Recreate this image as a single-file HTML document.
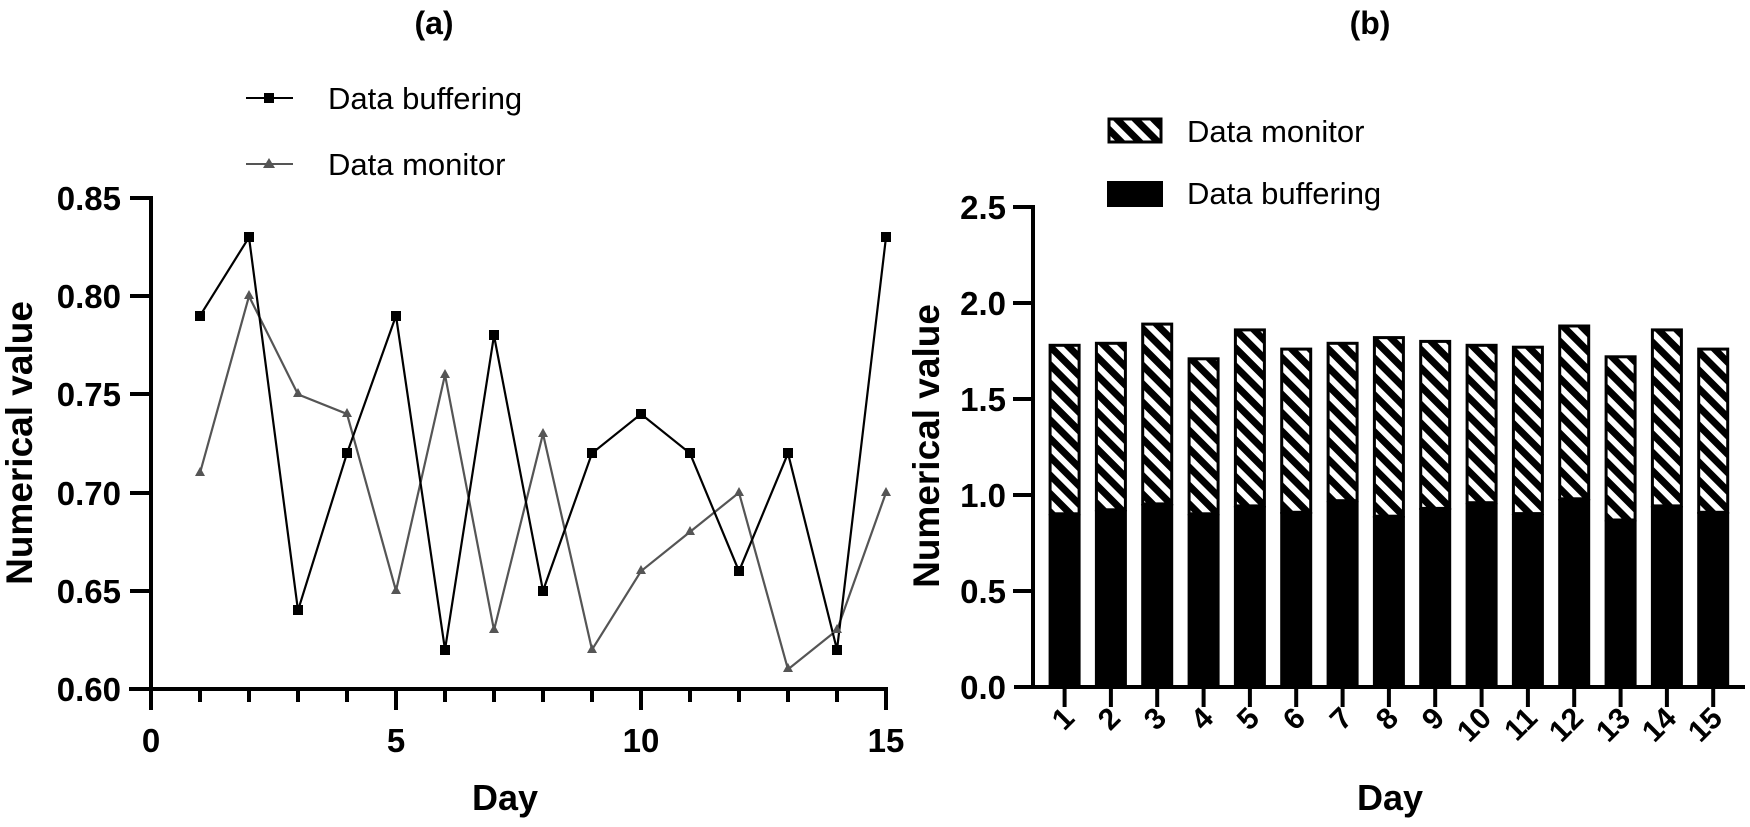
<!DOCTYPE html>
<html><head><meta charset="utf-8"><style>html,body{margin:0;padding:0;background:#fff}svg{display:block}text{font-family:"Liberation Sans",Arial,sans-serif;font-weight:bold}</style></head>
<body>
<svg width="1750" height="827" viewBox="0 0 1750 827" xmlns="http://www.w3.org/2000/svg">
<defs>
<pattern id="h" patternUnits="userSpaceOnUse" width="13" height="13" patternTransform="rotate(-45)">
<rect width="13" height="13" fill="#fff"/><rect width="7" height="13" fill="#000"/>
</pattern>
</defs>
<text x="434" y="34" font-size="32" text-anchor="middle">(a)</text>
<text x="1370" y="34" font-size="32" text-anchor="middle">(b)</text>

<line x1="246" y1="98" x2="293" y2="98" stroke="#000" stroke-width="2"/>
<rect x="264" y="93" width="10" height="10" fill="#000"/>
<text x="328" y="109" font-size="31" style="font-weight:normal">Data buffering</text>
<line x1="246" y1="164" x2="293" y2="164" stroke="#555" stroke-width="2"/>
<polygon points="269,158 275,168 263,168" fill="#555"/>
<text x="328" y="175" font-size="31" style="font-weight:normal">Data monitor</text>

<g stroke="#000" stroke-width="4" fill="none">
<line x1="151" y1="196" x2="151" y2="691"/>
<line x1="129" y1="689" x2="888" y2="689"/>
<line x1="130" y1="198" x2="151" y2="198"/>
<line x1="130" y1="296" x2="151" y2="296"/>
<line x1="130" y1="394" x2="151" y2="394"/>
<line x1="130" y1="493" x2="151" y2="493"/>
<line x1="130" y1="591" x2="151" y2="591"/>
<line x1="151" y1="689" x2="151" y2="710"/>
<line x1="396" y1="689" x2="396" y2="710"/>
<line x1="641" y1="689" x2="641" y2="710"/>
<line x1="886" y1="689" x2="886" y2="710"/>
<line x1="200" y1="689" x2="200" y2="702"/><line x1="249" y1="689" x2="249" y2="702"/><line x1="298" y1="689" x2="298" y2="702"/><line x1="347" y1="689" x2="347" y2="702"/>
<line x1="445" y1="689" x2="445" y2="702"/><line x1="494" y1="689" x2="494" y2="702"/><line x1="543" y1="689" x2="543" y2="702"/><line x1="592" y1="689" x2="592" y2="702"/>
<line x1="690" y1="689" x2="690" y2="702"/><line x1="739" y1="689" x2="739" y2="702"/><line x1="788" y1="689" x2="788" y2="702"/><line x1="837" y1="689" x2="837" y2="702"/>
</g>
<g font-size="33" text-anchor="end">
<text x="121" y="210">0.85</text><text x="121" y="308">0.80</text><text x="121" y="406">0.75</text>
<text x="121" y="505">0.70</text><text x="121" y="603">0.65</text><text x="121" y="701">0.60</text>
</g>
<g font-size="33" text-anchor="middle">
<text x="151" y="752">0</text><text x="396" y="752">5</text><text x="641" y="752">10</text><text x="886" y="752">15</text>
</g>
<text x="505" y="810" font-size="36" text-anchor="middle">Day</text>
<text transform="translate(32,443) rotate(-90)" font-size="37" text-anchor="middle">Numerical value</text>

<polyline fill="none" stroke="#555" stroke-width="2.2" points="200,473 249,296.2 298,394.4 347,414 396,590.8 445,374.8 494,630.1 543,433.7 592,649.7 641,571.2 690,531.9 739,492.6 788,669.4 837,630.1 886,492.6"/>
<polyline fill="none" stroke="#000" stroke-width="2.2" points="200,315.8 249,237.3 298,610.4 347,453.3 396,315.8 445,649.7 494,335.5 543,590.8 592,453.3 641,414 690,453.3 739,571.2 788,453.3 837,649.7 886,237.3"/>
<g fill="#555">
<polygon points="200,467 205,476 195,476"/><polygon points="249,290 254,299 244,299"/><polygon points="298,388 303,397 293,397"/><polygon points="347,408 352,417 342,417"/><polygon points="396,585 401,594 391,594"/><polygon points="445,369 450,378 440,378"/><polygon points="494,624 499,633 489,633"/><polygon points="543,428 548,437 538,437"/><polygon points="592,644 597,653 587,653"/><polygon points="641,565 646,574 636,574"/><polygon points="690,526 695,535 685,535"/><polygon points="739,487 744,496 734,496"/><polygon points="788,663 793,672 783,672"/><polygon points="837,624 842,633 832,633"/><polygon points="886,487 891,496 881,496"/>
</g>
<g fill="#000">
<rect x="195" y="311" width="10" height="10"/><rect x="244" y="232" width="10" height="10"/><rect x="293" y="605" width="10" height="10"/><rect x="342" y="448" width="10" height="10"/><rect x="391" y="311" width="10" height="10"/><rect x="440" y="645" width="10" height="10"/><rect x="489" y="330" width="10" height="10"/><rect x="538" y="586" width="10" height="10"/><rect x="587" y="448" width="10" height="10"/><rect x="636" y="409" width="10" height="10"/><rect x="685" y="448" width="10" height="10"/><rect x="734" y="566" width="10" height="10"/><rect x="783" y="448" width="10" height="10"/><rect x="832" y="645" width="10" height="10"/><rect x="881" y="232" width="10" height="10"/>
</g>

<rect x="1109" y="119" width="52" height="23" fill="url(#h)" stroke="#000" stroke-width="3"/>
<text x="1187" y="142" font-size="31" style="font-weight:normal">Data monitor</text>
<rect x="1107" y="181" width="56" height="26" fill="#000"/>
<text x="1187" y="204" font-size="31" style="font-weight:normal">Data buffering</text>

<g stroke="#000" stroke-width="3">
<rect x="1050.1" y="345.3" width="29" height="168.5" fill="url(#h)"/>
<rect x="1096.4" y="343.3" width="29" height="166.5" fill="url(#h)"/>
<rect x="1142.7" y="324.1" width="29" height="179.8" fill="url(#h)"/>
<rect x="1189.1" y="358.8" width="29" height="155.0" fill="url(#h)"/>
<rect x="1235.4" y="329.9" width="29" height="176.0" fill="url(#h)"/>
<rect x="1281.7" y="349.1" width="29" height="163.2" fill="url(#h)"/>
<rect x="1328.1" y="343.3" width="29" height="157.4" fill="url(#h)"/>
<rect x="1374.4" y="337.6" width="29" height="178.6" fill="url(#h)"/>
<rect x="1420.7" y="341.4" width="29" height="167.0" fill="url(#h)"/>
<rect x="1467.1" y="345.3" width="29" height="157.4" fill="url(#h)"/>
<rect x="1513.4" y="347.2" width="29" height="166.4" fill="url(#h)"/>
<rect x="1559.7" y="326.0" width="29" height="172.8" fill="url(#h)"/>
<rect x="1606.1" y="356.8" width="29" height="163.2" fill="url(#h)"/>
<rect x="1652.4" y="329.9" width="29" height="176.0" fill="url(#h)"/>
<rect x="1698.7" y="349.1" width="29" height="163.2" fill="url(#h)"/>
</g>
<g fill="#000">
<rect x="1048.6" y="514" width="32" height="173"/>
<rect x="1094.9" y="510" width="32" height="177"/>
<rect x="1141.2" y="504" width="32" height="183"/>
<rect x="1187.6" y="514" width="32" height="173"/>
<rect x="1233.9" y="506" width="32" height="181"/>
<rect x="1280.2" y="512" width="32" height="175"/>
<rect x="1326.6" y="501" width="32" height="186"/>
<rect x="1372.9" y="516" width="32" height="171"/>
<rect x="1419.2" y="508" width="32" height="179"/>
<rect x="1465.6" y="503" width="32" height="184"/>
<rect x="1511.9" y="514" width="32" height="173"/>
<rect x="1558.2" y="499" width="32" height="188"/>
<rect x="1604.6" y="520" width="32" height="167"/>
<rect x="1650.9" y="506" width="32" height="181"/>
<rect x="1697.2" y="512" width="32" height="175"/>
</g>
<g stroke="#000" stroke-width="4">
<line x1="1033" y1="205" x2="1033" y2="689"/>
<line x1="1014" y1="687" x2="1745" y2="687"/>
<line x1="1013" y1="207" x2="1033" y2="207"/>
<line x1="1013" y1="303" x2="1033" y2="303"/>
<line x1="1013" y1="399" x2="1033" y2="399"/>
<line x1="1013" y1="495" x2="1033" y2="495"/>
<line x1="1013" y1="591" x2="1033" y2="591"/>
<line x1="1064.6" y1="687" x2="1064.6" y2="707"/><line x1="1110.9" y1="687" x2="1110.9" y2="707"/><line x1="1157.2" y1="687" x2="1157.2" y2="707"/><line x1="1203.6" y1="687" x2="1203.6" y2="707"/><line x1="1249.9" y1="687" x2="1249.9" y2="707"/><line x1="1296.2" y1="687" x2="1296.2" y2="707"/><line x1="1342.6" y1="687" x2="1342.6" y2="707"/><line x1="1388.9" y1="687" x2="1388.9" y2="707"/><line x1="1435.2" y1="687" x2="1435.2" y2="707"/><line x1="1481.6" y1="687" x2="1481.6" y2="707"/><line x1="1527.9" y1="687" x2="1527.9" y2="707"/><line x1="1574.2" y1="687" x2="1574.2" y2="707"/><line x1="1620.6" y1="687" x2="1620.6" y2="707"/><line x1="1666.9" y1="687" x2="1666.9" y2="707"/><line x1="1713.2" y1="687" x2="1713.2" y2="707"/>
</g>
<g font-size="33" text-anchor="end">
<text x="1006" y="219">2.5</text><text x="1006" y="315">2.0</text><text x="1006" y="411">1.5</text>
<text x="1006" y="507">1.0</text><text x="1006" y="603">0.5</text><text x="1006" y="699">0.0</text>
</g>
<g font-size="30" text-anchor="end">
<text transform="translate(1076,720) rotate(-45)">1</text>
<text transform="translate(1122,720) rotate(-45)">2</text>
<text transform="translate(1168,720) rotate(-45)">3</text>
<text transform="translate(1215,720) rotate(-45)">4</text>
<text transform="translate(1261,720) rotate(-45)">5</text>
<text transform="translate(1307,720) rotate(-45)">6</text>
<text transform="translate(1354,720) rotate(-45)">7</text>
<text transform="translate(1400,720) rotate(-45)">8</text>
<text transform="translate(1446,720) rotate(-45)">9</text>
<text transform="translate(1493,720) rotate(-45)">10</text>
<text transform="translate(1539,720) rotate(-45)">11</text>
<text transform="translate(1585,720) rotate(-45)">12</text>
<text transform="translate(1632,720) rotate(-45)">13</text>
<text transform="translate(1678,720) rotate(-45)">14</text>
<text transform="translate(1724,720) rotate(-45)">15</text>
</g>
<text x="1390" y="810" font-size="36" text-anchor="middle">Day</text>
<text transform="translate(939,446) rotate(-90)" font-size="37" text-anchor="middle">Numerical value</text>
</svg>
</body></html>
